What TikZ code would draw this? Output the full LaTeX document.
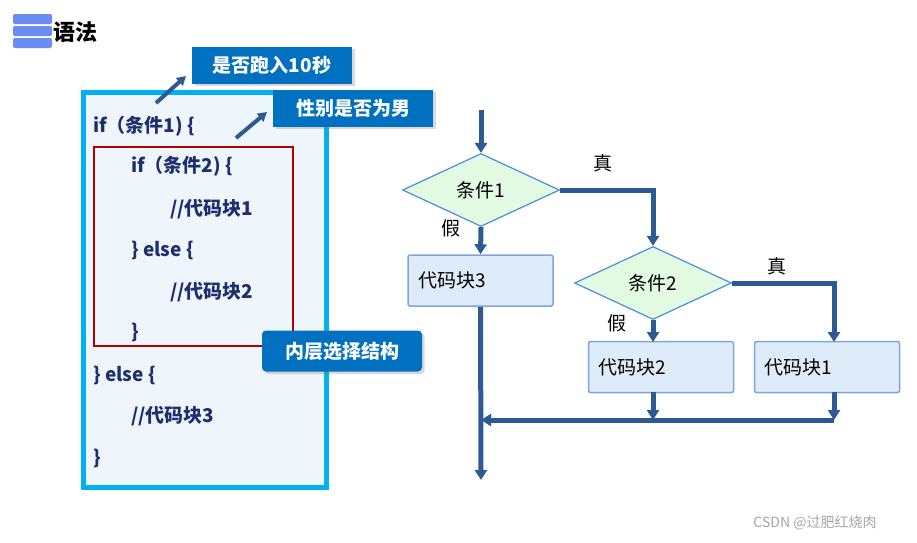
\documentclass[tikz,border=0pt]{standalone}
\usepackage{fontspec}
\setmainfont{Noto Sans CJK SC}
\usetikzlibrary{shapes.geometric,arrows.meta,shadows}
\definecolor{navy}{HTML}{1F2F6E}
\definecolor{cbl}{HTML}{0070C0}
\definecolor{flow}{HTML}{2E5A94}
\definecolor{cfill}{HTML}{EEF5FB}
\definecolor{cedge}{HTML}{00B0F0}
\definecolor{bfill}{HTML}{DEEBF8}
\definecolor{bedge}{HTML}{7EA6DC}
\definecolor{dfill}{HTML}{E2F9E2}
\definecolor{dedge}{HTML}{4A90D9}
\definecolor{icon}{HTML}{6B8CF5}
\tikzset{
 code/.style={anchor=west,text=navy,font=\bfseries\fontsize{19}{19}\selectfont,inner sep=0},
 call/.style={fill=cbl,text=white,font=\bfseries\fontsize{19}{19}\selectfont,minimum height=37pt,inner xsep=8pt,drop shadow={opacity=.3}},
 arr/.style={draw=flow,line width=5pt,-{Triangle[length=10pt,width=12pt]}},
 dia/.style={diamond,aspect=2.2,fill=dfill,draw=dedge,line width=1.2pt,minimum width=157pt,minimum height=73pt,inner sep=0,font=\fontsize{19}{19}\selectfont},
 blk/.style={draw=bedge,fill=bfill,line width=1.5pt,rounded corners=2pt,minimum width=145pt,minimum height=51pt,text width=125pt,font=\fontsize{19}{19}\selectfont},
 lab/.style={font=\fontsize{19}{19}\selectfont}
}
\begin{document}
\begin{tikzpicture}[x=1pt,y=-1pt]
\useasboundingbox (0,0) rectangle (917,542);
% icon
\foreach \y in {14,26,38} \fill[icon, rounded corners=2pt] (13,\y) rectangle (52,\y+10);
\node[anchor=west,font=\bfseries\fontsize{22}{22}\selectfont] (title) at (50,32) {语法};
% code box
\draw[draw=cedge,line width=5pt,fill=cfill] (83,92) rectangle (326,487);
\draw[draw=red!70!black,line width=1.6pt] (94,147) rectangle (293,346);
\node[code] (c1) at (93,126) {if（条件1) \{};
\node[code] (c2) at (131,166) {if（条件2) \{};
\node[code] (c3) at (170,209) {//代码块1};
\node[code] (c4) at (131,250) {\} else \{};
\node[code] (c5) at (170,292) {//代码块2};
\node[code] (c6) at (131,332) {\}};
\node[code] (c7) at (93,375) {\} else \{};
\node[code] (c8) at (131,416) {//代码块3};
\node[code] (c9) at (93,458) {\}};
% callouts
\node[call,minimum width=160pt] (k1) at (272,65) {是否跑入10秒};
\node[call,minimum width=160pt] (k2) at (353,108) {性别是否为男};
\node[call,minimum width=160pt,minimum height=41pt,rounded corners=4pt] (k3) at (342,351) {内层选择结构};
\coordinate (a1) at (156,103); \coordinate (a2) at (236,138);
\draw[flow,line width=4pt,-{Triangle[length=9pt,width=10pt]}] (a1) -- (186,76);
\draw[flow,line width=4pt,-{Triangle[length=9pt,width=10pt]}] (a2) -- (267,112);
% flowchart
\coordinate (s) at (481,110);
\node[dia] (d1) at (481,190) {条件1};
\node[blk] (b3) at (480.5,280.5) {代码块3};
\node[dia] (d2) at (653,283) {条件2};
\node[blk] (b2) at (661,367) {代码块2};
\node[blk] (b1) at (827,367) {代码块1};
\coordinate (m) at (481,420); \coordinate (e) at (481,480);
\coordinate (b1t) at (834,342); \coordinate (b1b) at (834,392);
\coordinate (b2t) at (653,342); \coordinate (b2b) at (653,392);
\coordinate (j2) at (653,420); \coordinate (j1) at (834,420);
\draw[arr] (s) -- (d1.north);
\draw[arr] (d1.south) -- (b3.north);
\draw[arr] (b3.south) -- (e);
\draw[arr] (d1.east) -| (d2.north);
\draw[arr] (d2.east) -| (b1t);
\draw[arr] (d2.south) -- (b2t);
\draw[arr] (b2b) -- (j2);
\draw[arr] (b1b) -- (j1);
\draw[arr] (j1) -- (m);
\node[lab] (t1) at (603,163) {真};
\node[lab] (f1) at (451,228) {假};
\node[lab] (t2) at (777,266) {真};
\node[lab] (f2) at (617,323) {假};
\node[text=gray!70,font=\fontsize{14}{14}\selectfont] (wm) at (815,523) {CSDN @过肥红烧肉};
\end{tikzpicture}
\end{document}
